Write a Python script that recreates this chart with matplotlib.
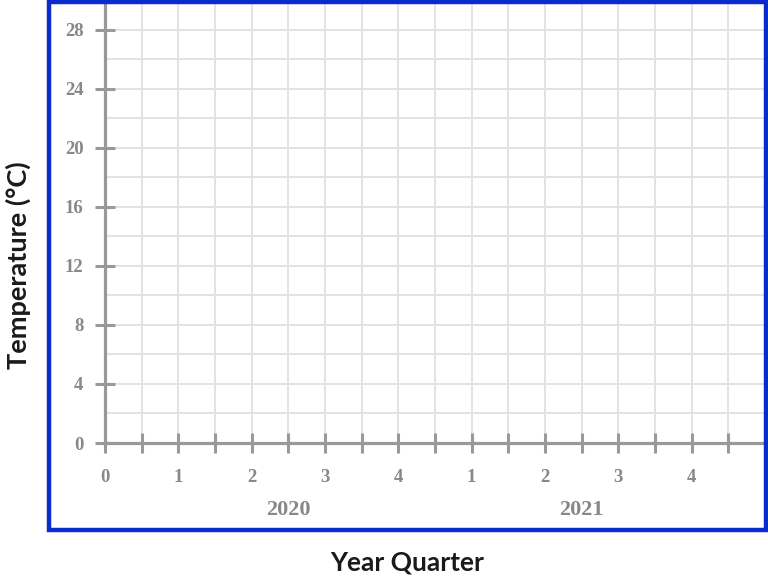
import matplotlib
matplotlib.use("Agg")
import matplotlib.pyplot as plt
from matplotlib.patches import Rectangle
import matplotlib.transforms as mtransforms
import numpy as np

# ---- data / labels ----
x_tick_pos = [0, 1, 2, 3, 4, 5, 6, 7, 8]
x_tick_labels = ["0", "1", "2", "3", "4", "1", "2", "3", "4"]
x_half_ticks = [i * 0.5 for i in range(0, 18)]
y_ticks = [0, 4, 8, 12, 16, 20, 24, 28]
y_grid = [i * 2 for i in range(0, 15)]
years = ["2020", "2021"]
year_pos = [2.5, 6.5]
x_label = "Year Quarter"
y_label = "Temperature (°C)"

W, H = 768, 580
fig = plt.figure(figsize=(W / 100, H / 100), dpi=100)

left, right = 105, 765
bottom, top = 443, 3
ax = fig.add_axes([left / W, 1 - bottom / H, (right - left) / W, (bottom - top) / H])
ax.set_xlim(0, 9)
ax.set_ylim(0, 29.8)
ax.patch.set_alpha(0)

grid_c = "#e3e3e3"
for gx in x_half_ticks[1:]:
    ax.axvline(gx, color=grid_c, lw=1.4, zorder=0)
for gy in y_grid[1:]:
    ax.axhline(gy, color=grid_c, lw=1.4, zorder=0)

axis_c = "#999999"
for s in ["top", "right"]:
    ax.spines[s].set_visible(False)
for s in ["left", "bottom"]:
    ax.spines[s].set_color(axis_c)
    ax.spines[s].set_linewidth(2.3)
    ax.spines[s].set_zorder(3)

ax.set_xticks(x_half_ticks)
ax.set_xticklabels([x_tick_labels[int(t)] if float(t).is_integer() else "" for t in x_half_ticks])
ax.set_yticks(y_ticks)
ax.set_yticklabels([str(v) for v in y_ticks])

ax.tick_params(axis="both", direction="inout", length=15, width=2.2, color=axis_c,
               labelcolor="#888888")
ax.tick_params(axis="x", pad=11)
ax.tick_params(axis="y", pad=8)
for lab in ax.get_xticklabels() + ax.get_yticklabels():
    lab.set_fontfamily("Liberation Serif")
    lab.set_fontweight("bold")
    lab.set_fontsize(13.5)

trans = mtransforms.blended_transform_factory(ax.transData, fig.transFigure)
for yr, xp in zip(years, year_pos):
    ax.text(xp, 1 - 510 / H, yr, transform=trans, ha="center", va="center",
            family="Liberation Serif", weight="bold", size=16, color="#888888",
            clip_on=False)

# blue frame
fig.patches.append(Rectangle((49 / W, 1 - 529.5 / H), (765.5 - 49) / W, (529.5 - 1.5) / H,
                             transform=fig.transFigure, fill=False,
                             edgecolor="#0a2ccc", linewidth=3.2, zorder=10))

fig.text(407 / W, 1 - 563 / H, x_label, ha="center", va="center",
         family="Lato", weight="bold", size=19, color="#1a1a1a")
fig.text(18 / W, 1 - 265 / H, y_label, ha="center", va="center", rotation=90,
         family="Lato", weight="bold", size=19.5, color="#1a1a1a")

fig.savefig("out.png", dpi=100)
